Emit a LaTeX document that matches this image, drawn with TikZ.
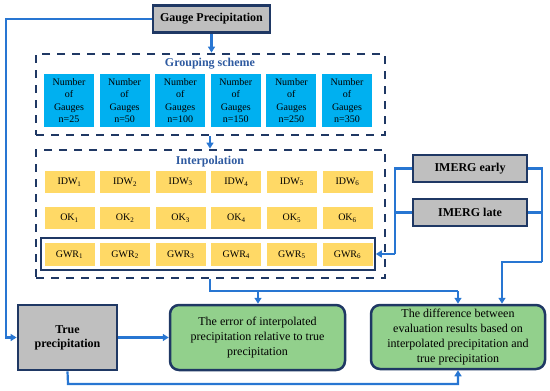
\documentclass[tikz,border=0pt]{standalone}
\usepackage{fontspec}
\setmainfont{Liberation Serif}
\usetikzlibrary{arrows.meta}
\definecolor{navy}{RGB}{31,56,100}
\definecolor{lnblue}{RGB}{40,118,210}
\definecolor{ttlblue}{RGB}{46,90,160}
\definecolor{cyanbox}{RGB}{0,176,240}
\definecolor{yelbox}{RGB}{255,217,102}
\definecolor{grnbox}{RGB}{146,208,140}
\definecolor{graybox}{RGB}{191,191,191}
\tikzset{
  graynode/.style={draw=navy, line width=2.8pt, fill=graybox, font=\bfseries\fontsize{12}{14}\selectfont, align=center, inner sep=0pt},
  grnnode/.style={draw=navy, line width=2.5pt, fill=grnbox, rounded corners=9pt, font=\fontsize{12}{15}\selectfont, align=center, inner sep=0pt},
  cyannode/.style={fill=cyanbox, minimum width=50pt, minimum height=53pt, inner sep=0pt, align=center, font=\fontsize{10}{12.5}\selectfont},
  yelnode/.style={fill=yelbox, minimum width=50pt, minimum height=22pt, inner sep=0pt, font=\fontsize{10}{12}\selectfont},
  dashframe/.style={draw=navy, line width=2.8pt, dash pattern=on 8pt off 7pt, inner sep=0pt},
  ttl/.style={text=ttlblue, font=\bfseries\fontsize{12}{14}\selectfont, inner sep=0pt},
  conn/.style={draw=lnblue, line width=2.2pt},
  arr/.style={conn, -{Triangle[length=6pt,width=7pt]}},
}
\begin{document}
\begin{tikzpicture}[x=1pt,y=-1pt]
\useasboundingbox (0,0) rectangle (550,391);
% top gauge
\node[graynode, minimum width=117pt, minimum height=27pt] (gauge) at (211.5,19) {Gauge Precipitation};
% grouping frame
\node[dashframe, minimum width=349pt, minimum height=81pt] (grp) at (210.5,94.5) {};
\node[ttl] (grpt) at (210,64) {Grouping scheme};
\foreach \i/\n in {1/25,2/50,3/100,4/150,5/250,6/350}{
  \node[cyannode] (g\i) at ({69+55.6*(\i-1)},100.5) {Number\\of\\Gauges\\n=\n};
}
% interpolation frame
\node[dashframe, minimum width=349pt, minimum height=128pt] (intp) at (210.5,214) {};
\node[ttl] (intpt) at (210,162) {Interpolation};
\node[draw=navy, line width=1.6pt, minimum width=334pt, minimum height=32pt, inner sep=0pt] (gwrf) at (208,254) {};
\foreach \i in {1,...,6}{
  \node[yelnode] (idw\i) at ({69.5+55.6*(\i-1)},182) {IDW\textsubscript{\i}};
  \node[yelnode] (ok\i) at ({69.5+55.6*(\i-1)},218) {OK\textsubscript{\i}};
  \node[yelnode, minimum height=23pt] (gwr\i) at ({69.5+55.6*(\i-1)},254.5) {GWR\textsubscript{\i}};
}
% IMERG
\node[graynode, minimum width=114pt, minimum height=27pt] (early) at (470,168.5) {IMERG early};
\node[graynode, minimum width=114pt, minimum height=27pt] (late) at (470,212.5) {IMERG late};
% bottom
\node[graynode, minimum width=99pt, minimum height=65pt] (true) at (67.5,337.5) {True\\precipitation};
\node[grnnode, minimum width=175pt, minimum height=65pt] (err) at (257.5,337.5) {The error of interpolated\\precipitation relative to true\\precipitation};
\node[grnnode, minimum width=174pt, minimum height=64pt] (diff) at (458,337) {The difference between\\evaluation results based on\\interpolated precipitation and\\true precipitation};
% coordinates
\coordinate (lft) at (6,19);
\coordinate (j1) at (210,291);
\coordinate (lx) at (395,254);
\coordinate (rx) at (542,262);
\coordinate (bx) at (68,384);
% connectors
\draw[arr] (gauge.west) -- (lft) |- (true.west);
\draw[arr] (gauge.south) -- (gauge.south |- grp.north);
\draw[arr] (210,0 |- grp.south) -- (210,0 |- intp.north);
\draw[conn] (210,0 |- intp.south) -- (j1) -- (458,291);
\draw[arr] (258,291) -- (258,0 |- err.north);
\draw[arr] (458,291) -- (diff.north);
\draw[arr] (true.east) -- (err.west);
\draw[arr] (true.south) -- (bx) -| (diff.south);
\draw[conn] (early.west) -| (lx);
\draw[conn] (late.west) -- (395,212.5);
\draw[arr] (lx) -- (gwrf.east);
\draw[conn] (early.east) -| (rx);
\draw[conn] (late.east) -- (542,212.5);
\draw[arr] (rx) -| (502,0 |- diff.north);
\end{tikzpicture}
\end{document}
